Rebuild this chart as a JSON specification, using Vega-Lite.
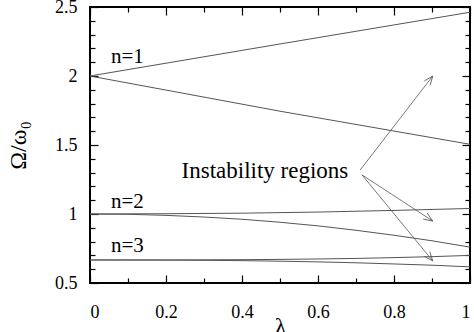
{
  "$schema": "https://vega.github.io/schema/vega-lite/v6.json",
  "width": 380,
  "height": 276,
  "autosize": {"type": "none"},
  "padding": {"left": 90, "top": 7, "right": 4, "bottom": 49},
  "background": "white",
  "config": {
    "view": {"stroke": "black", "strokeWidth": 2},
    "font": "Liberation Serif, Times New Roman, serif",
    "style": {
      "guide-label": {"font": "Liberation Serif, Times New Roman, serif"},
      "guide-title": {"font": "Liberation Serif, Times New Roman, serif"}
    },
    "axis": {
      "grid": false,
      "domain": false,
      "tickColor": "black",
      "tickWidth": 1.2,
      "labelFont": "Liberation Serif, Times New Roman, serif",
      "labelFontSize": 18,
      "labelColor": "black",
      "titleFont": "Liberation Serif, Times New Roman, serif",
      "titleFontWeight": "normal",
      "titleColor": "black",
      "titleFontSize": 24
    }
  },
  "datasets": {
    "curves": [
      {"branch": "1u", "lambda": 0, "omega": 2.0},
      {"branch": "1u", "lambda": 0.5, "omega": 2.232},
      {"branch": "1u", "lambda": 1, "omega": 2.462},
      {"branch": "1l", "lambda": 0, "omega": 2.0},
      {"branch": "1l", "lambda": 0.5, "omega": 1.745},
      {"branch": "1l", "lambda": 1, "omega": 1.505},
      {"branch": "2u", "lambda": 0, "omega": 1.0},
      {"branch": "2u", "lambda": 0.2, "omega": 1.002},
      {"branch": "2u", "lambda": 0.4, "omega": 1.006},
      {"branch": "2u", "lambda": 0.5, "omega": 1.01},
      {"branch": "2u", "lambda": 0.6, "omega": 1.014},
      {"branch": "2u", "lambda": 0.8, "omega": 1.026},
      {"branch": "2u", "lambda": 1, "omega": 1.04},
      {"branch": "2l", "lambda": 0, "omega": 1.0},
      {"branch": "2l", "lambda": 0.1, "omega": 0.998},
      {"branch": "2l", "lambda": 0.2, "omega": 0.99},
      {"branch": "2l", "lambda": 0.3, "omega": 0.978},
      {"branch": "2l", "lambda": 0.4, "omega": 0.962},
      {"branch": "2l", "lambda": 0.5, "omega": 0.94},
      {"branch": "2l", "lambda": 0.6, "omega": 0.914},
      {"branch": "2l", "lambda": 0.7, "omega": 0.882},
      {"branch": "2l", "lambda": 0.8, "omega": 0.846},
      {"branch": "2l", "lambda": 0.9, "omega": 0.806},
      {"branch": "2l", "lambda": 1, "omega": 0.76},
      {"branch": "3u", "lambda": 0, "omega": 0.667},
      {"branch": "3u", "lambda": 0.2, "omega": 0.667},
      {"branch": "3u", "lambda": 0.4, "omega": 0.669},
      {"branch": "3u", "lambda": 0.5, "omega": 0.671},
      {"branch": "3u", "lambda": 0.6, "omega": 0.674},
      {"branch": "3u", "lambda": 0.7, "omega": 0.678},
      {"branch": "3u", "lambda": 0.8, "omega": 0.684},
      {"branch": "3u", "lambda": 0.9, "omega": 0.691},
      {"branch": "3u", "lambda": 1, "omega": 0.7},
      {"branch": "3l", "lambda": 0, "omega": 0.667},
      {"branch": "3l", "lambda": 0.2, "omega": 0.666},
      {"branch": "3l", "lambda": 0.3, "omega": 0.6645},
      {"branch": "3l", "lambda": 0.4, "omega": 0.662},
      {"branch": "3l", "lambda": 0.5, "omega": 0.658},
      {"branch": "3l", "lambda": 0.6, "omega": 0.653},
      {"branch": "3l", "lambda": 0.7, "omega": 0.6465},
      {"branch": "3l", "lambda": 0.8, "omega": 0.638},
      {"branch": "3l", "lambda": 0.9, "omega": 0.629},
      {"branch": "3l", "lambda": 1, "omega": 0.617}
    ],
    "arrows": [
      {"arrow": "a1", "lambda": 0.711, "omega": 1.319},
      {"arrow": "a1", "lambda": 0.902, "omega": 2.0},
      {"arrow": "a2", "lambda": 0.716, "omega": 1.283},
      {"arrow": "a2", "lambda": 0.902, "omega": 0.949},
      {"arrow": "a3", "lambda": 0.716, "omega": 1.283},
      {"arrow": "a3", "lambda": 0.902, "omega": 0.66}
    ],
    "tips": [
      {"arrow": "a1", "lambda": 0.902, "omega": 2.0},
      {"arrow": "a2", "lambda": 0.902, "omega": 0.949},
      {"arrow": "a3", "lambda": 0.902, "omega": 0.66}
    ],
    "nlabels": [
      {"label": "n=1", "lambda": 0.055, "omega": 2.094},
      {"label": "n=2", "lambda": 0.055, "omega": 1.041},
      {"label": "n=3", "lambda": 0.055, "omega": 0.727}
    ],
    "note": [
      {"label": "Instability regions", "lambda": 0.241, "omega": 1.261}
    ]
  },
  "layer": [
    {
      "data": {"name": "curves"},
      "mark": {"type": "line", "color": "#555555", "strokeWidth": 1},
      "encoding": {
        "x": {
          "field": "lambda", "type": "quantitative",
          "scale": {"domain": [0, 1], "nice": false, "zero": false},
          "axis": {
            "orient": "bottom",
            "title": "λ",
            "values": [0, 0.1, 0.2, 0.3, 0.4, 0.5, 0.6, 0.7, 0.8, 0.9, 1],
            "format": ".1~f",
            "labelExpr": "abs(datum.value*5 - round(datum.value*5)) < 0.001 ? datum.label : ''",
            "tickSize": {"condition": {"test": "abs(datum.value*5 - round(datum.value*5)) < 0.001", "value": -8}, "value": -5},
            "labelPadding": 28,
            "titlePadding": -7
          }
        },
        "y": {
          "field": "omega", "type": "quantitative",
          "scale": {"domain": [0.5, 2.5], "nice": false, "zero": false},
          "axis": {
            "orient": "left",
            "title": "Ω/ω₀",
            "values": [0.5, 0.6, 0.7, 0.8, 0.9, 1, 1.1, 1.2, 1.3, 1.4, 1.5, 1.6, 1.7, 1.8, 1.9, 2, 2.1, 2.2, 2.3, 2.4, 2.5],
            "format": ".1~f",
            "labelExpr": "abs(datum.value*2 - round(datum.value*2)) < 0.001 ? datum.label : ''",
            "tickSize": {"condition": {"test": "abs(datum.value*2 - round(datum.value*2)) < 0.001", "value": -8}, "value": -5},
            "labelPadding": 21,
            "titlePadding": 24
          }
        },
        "detail": {"field": "branch", "type": "nominal"}
      }
    },
    {
      "data": {"name": "curves"},
      "mark": {"type": "line", "opacity": 0},
      "encoding": {
        "x": {
          "field": "lambda", "type": "quantitative",
          "axis": {
            "orient": "top", "title": null, "labels": false,
            "values": [0, 0.1, 0.2, 0.3, 0.4, 0.5, 0.6, 0.7, 0.8, 0.9, 1],
            "tickSize": {"condition": {"test": "abs(datum.value*5 - round(datum.value*5)) < 0.001", "value": -8}, "value": -5}
          }
        },
        "y": {
          "field": "omega", "type": "quantitative",
          "axis": {
            "orient": "right", "title": null, "labels": false,
            "values": [0.5, 0.6, 0.7, 0.8, 0.9, 1, 1.1, 1.2, 1.3, 1.4, 1.5, 1.6, 1.7, 1.8, 1.9, 2, 2.1, 2.2, 2.3, 2.4, 2.5],
            "tickSize": {"condition": {"test": "abs(datum.value*2 - round(datum.value*2)) < 0.001", "value": -8}, "value": -5}
          }
        },
        "detail": {"field": "branch", "type": "nominal"}
      }
    },
    {
      "data": {"name": "arrows"},
      "mark": {"type": "line", "color": "#555555", "strokeWidth": 0.8},
      "encoding": {
        "x": {"field": "lambda", "type": "quantitative", "axis": null},
        "y": {"field": "omega", "type": "quantitative", "axis": null},
        "detail": {"field": "arrow", "type": "nominal"}
      }
    },
    {
      "data": {"name": "tips"},
      "transform": [{"filter": "datum.arrow == 'a1'"}],
      "mark": {"type": "point", "shape": "M-0.4,1L0,0L0.4,1", "size": 324, "filled": false, "stroke": "#555555", "strokeWidth": 0.8, "opacity": 1, "angle": 37.7},
      "encoding": {
        "x": {"field": "lambda", "type": "quantitative", "axis": null},
        "y": {"field": "omega", "type": "quantitative", "axis": null}
      }
    },
    {
      "data": {"name": "tips"},
      "transform": [{"filter": "datum.arrow == 'a2'"}],
      "mark": {"type": "point", "shape": "M-0.4,1L0,0L0.4,1", "size": 324, "filled": false, "stroke": "#555555", "strokeWidth": 0.8, "opacity": 1, "angle": 123},
      "encoding": {
        "x": {"field": "lambda", "type": "quantitative", "axis": null},
        "y": {"field": "omega", "type": "quantitative", "axis": null}
      }
    },
    {
      "data": {"name": "tips"},
      "transform": [{"filter": "datum.arrow == 'a3'"}],
      "mark": {"type": "point", "shape": "M-0.4,1L0,0L0.4,1", "size": 324, "filled": false, "stroke": "#555555", "strokeWidth": 0.8, "opacity": 1, "angle": 140.5},
      "encoding": {
        "x": {"field": "lambda", "type": "quantitative", "axis": null},
        "y": {"field": "omega", "type": "quantitative", "axis": null}
      }
    },
    {
      "data": {"name": "nlabels"},
      "mark": {"type": "text", "font": "Liberation Serif, Times New Roman, serif", "fontSize": 21, "align": "left", "baseline": "alphabetic", "color": "black"},
      "encoding": {
        "x": {"field": "lambda", "type": "quantitative", "axis": null},
        "y": {"field": "omega", "type": "quantitative", "axis": null},
        "text": {"field": "label"}
      }
    },
    {
      "data": {"name": "note"},
      "mark": {"type": "text", "font": "Liberation Serif, Times New Roman, serif", "fontSize": 23, "align": "left", "baseline": "alphabetic", "color": "black"},
      "encoding": {
        "x": {"field": "lambda", "type": "quantitative", "axis": null},
        "y": {"field": "omega", "type": "quantitative", "axis": null},
        "text": {"field": "label"}
      }
    }
  ],
  "resolve": {"axis": {"x": "independent", "y": "independent"}}
}
